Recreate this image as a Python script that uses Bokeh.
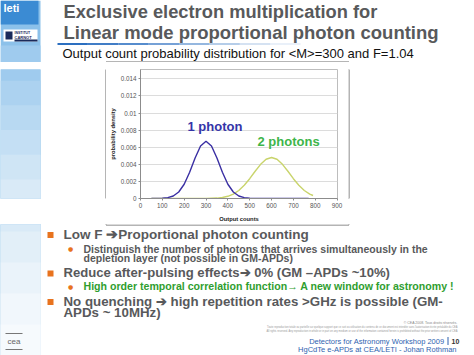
from bokeh.plotting import figure
from bokeh.models import Range1d, FixedTicker, Label
from bokeh.layouts import column, row
from bokeh.core.properties import value
from bokeh.embed import file_html
from bokeh.resources import INLINE

# ---------------- data ----------------
counts_1 = [50, 75, 100, 125, 150, 175, 200, 225, 250, 275, 300, 325, 350, 375,
            400, 425, 450, 475, 500, 550, 600, 650, 700, 770]
density_1 = [0.0, 0.000006, 0.000026, 0.000096, 0.00029, 0.00076, 0.00167, 0.00307,
             0.00474, 0.00614, 0.0067, 0.00614, 0.00474, 0.00307, 0.00167, 0.00076,
             0.00029, 0.000096, 0.000026, 0.000001, 0.0, 0.0, 0.0, 0.0]

counts_2 = [50, 100, 150, 200, 250, 300, 350, 375, 400, 425, 450, 475, 500, 525, 550,
            575, 600, 625, 650, 675, 700, 725, 750, 775, 790]
density_2 = [0.0, 0.0, 0.0, 0.0, 0.000001, 0.000007, 0.00005, 0.00012, 0.00026, 0.00052,
             0.00094, 0.00155, 0.00232, 0.00319, 0.0040, 0.00459, 0.0048, 0.00459, 0.0040,
             0.00319, 0.00232, 0.00155, 0.00094, 0.00052, 0.00035]

x_ticks = [0, 100, 200, 300, 400, 500, 600, 700, 800, 900]
y_ticks = [0, 0.002, 0.004, 0.006, 0.008, 0.010, 0.012, 0.014]
y_tick_labels = ["0", "0.002", "0.004", "0.006", "0.008", "0.01", "0.012", "0.014"]

# ---------------- page geometry ----------------
W, H = 474, 355
BX0, BX1, BY0, BY1 = 105, 348, 61, 224      # chart area box lines
CX0, CX1, CY0, CY1 = 106, 348, 62, 224      # chart figure canvas
FL, FR, FT, FB = 136, 337, 69, 198          # plot frame
FONT = "Liberation Sans"
GRAY = "#58595b"
ORANGE = "#e8731e"
MID = 0.35   # cap-centre above the baseline, in em

# ---------------- chart ----------------
p = figure(width=CX1 - CX0, height=CY1 - CY0, output_backend="svg", toolbar_location=None,
           x_range=Range1d(0, 902), y_range=Range1d(0, 0.0151),
           min_border_left=FL - CX0, min_border_right=CX1 - FR,
           min_border_top=FT - CY0, min_border_bottom=CY1 - FB)
p.background_fill_color = "white"
p.border_fill_color = "white"
p.outline_line_color = "#bdbdbd"
p.xgrid.visible = False
p.ygrid.grid_line_color = "#dcdcdc"

for ax in (p.xaxis[0], p.yaxis[0]):
    ax.axis_line_color = "#8c8c8c"
    ax.major_tick_line_color = "#8c8c8c"
    ax.major_tick_out = 2
    ax.major_tick_in = 0
    ax.minor_tick_out = 0
    ax.minor_tick_in = 0
    ax.major_label_text_font = FONT
    ax.major_label_text_font_size = "6.3px"
    ax.major_label_text_color = "#555555"
    ax.axis_label_text_font = FONT
    ax.axis_label_text_font_size = "5.8px"
    ax.axis_label_text_font_style = "bold"
    ax.axis_label_text_color = "#222222"
    ax.major_label_standoff = 2

p.xaxis.ticker = FixedTicker(ticks=x_ticks)
p.yaxis.ticker = FixedTicker(ticks=y_ticks)
p.yaxis.major_label_overrides = {t: s for t, s in zip(y_ticks, y_tick_labels)}
p.xaxis.axis_label = "Output counts"
p.yaxis.axis_label = "probability density"
p.xaxis.axis_label_standoff = 5
p.yaxis.axis_label_standoff = 2

p.line(counts_2, density_2, line_color="#c9d46c", line_width=1.4)
p.line(counts_1, density_1, line_color="#3a2fa3", line_width=1.4)

for px, py, s, c in [(183, 130.7, "1 photon", "#3434a8"), (253, 146, "2 photons", "#3db54a")]:
    p.add_layout(Label(x=px - FL, y=FB - (py - MID * 13), x_units="screen", y_units="screen",
                       text=s, text_font=FONT, text_font_size="13px", text_font_style="bold",
                       text_color=c, text_baseline="middle"))


# ---------------- slide decoration (page pixel coordinates) ----------------
def deco(x0, x1, y0, y1):
    f = figure(width=x1 - x0, height=y1 - y0, output_backend="svg", toolbar_location=None,
               x_range=Range1d(x0, x1), y_range=Range1d(y1, y0),
               x_axis_type=None, y_axis_type=None, min_border=0)
    f.min_border_left = f.min_border_right = f.min_border_top = f.min_border_bottom = 0
    f.grid.visible = False
    f.outline_line_color = None
    f.background_fill_color = "white"
    f.border_fill_color = "white"
    f.tags = [x0, x1, y0, y1]
    draw(f)
    return f


def T(f, x, y, s, size, color=GRAY, bold=True, align="left", font=FONT):
    # y is the text baseline in page pixels; drawn only in the panel that holds it
    x0, x1, y0, y1 = f.tags
    if not (x0 <= x <= x1 and y0 <= y <= y1):
        return
    f.text(x=[x], y=[y - MID * size], text=[s], text_font=value(font),
           text_font_size=f"{size}px", text_color=color,
           text_font_style="bold" if bold else "normal",
           text_align=align, text_baseline="middle")


def Q(f, x0, y0, x1, y1, color, alpha=1.0):
    f.quad(left=[x0], right=[x1], top=[y0], bottom=[y1], fill_color=color,
           fill_alpha=alpha, line_color=None)


def draw(f):
    # left strip: each band runs to the bottom, the next one painted over it
    strip = ["#9fcbee", "#acd2f0", "#b8d9f2", "#c4dff4", "#cfe5f5", "#d9eaf7",
             "#e2eff8", "#eaf3fa", "#f1f7fc", "#f6fafd"]
    n = len(strip)
    step = (H - 45) / n
    Q(f, 0, 0, 40, H, "#8cc1ea")
    for i, c in enumerate(strip):
        Q(f, 0, 45 + i * step, 40, H, c)
    Q(f, 0, 0, 38, 24, "#3b8bd3")
    T(f, 3, 11, "leti", 11, color="white")
    Q(f, 3, 29, 37, 41, "white")
    Q(f, 5, 31, 12, 39, "#1b2a5a")
    T(f, 14, 34, "INSTITUT", 3.5, color="#1b2a5a")
    T(f, 14, 38, "CARNOT", 4, color="#1b2a5a")
    Q(f, 14, 39, 37, 41, "#1b2a5a")
    # cea logo
    Q(f, 5, 332.5, 22, 333.5, "#777777")
    Q(f, 5, 348.5, 22, 349.5, "#777777")
    T(f, 13.5, 343.5, "cea", 8, color="#666666", bold=False, align="center")

    # chart area box
    f.line(x=[BX0 + 0.5, BX1 + 0.5, BX1 + 0.5, BX0 + 0.5, BX0 + 0.5],
           y=[BY0 + 0.5, BY0 + 0.5, BY1 + 0.5, BY1 + 0.5, BY0 + 0.5],
           line_color="#6b6b6b", line_width=1)

    # title
    T(f, 63, 17, "Exclusive electron multiplication for", 18.3)
    T(f, 63, 38.5, "Linear mode proportional photon counting", 18.5)
    grad = [1.0, 0.9, 0.8, 0.65, 0.5, 0.35, 0.2, 0.1]
    seg = (300 - 57) / len(grad)
    for i, a in enumerate(grad):
        Q(f, 57 + i * seg, 42.5, 57 + (i + 1) * seg, 44.5, "#2c6fc0", a)
    T(f, 62, 57.5, "Output count probability distribution for <M>=300 and F=1.04", 13,
      color="#111111", bold=False)

    # bullets
    Q(f, 47, 231.5, 53, 237.5, ORANGE)
    T(f, 63, 238.8, "Low F \u2794Proportional photon counting", 13.5)
    T(f, 70, 250, "\u25cf", 6, color=ORANGE, align="center", font="DejaVu Sans")
    T(f, 83, 251.7, "Distinguish the number of photons that arrives simultaneously in the", 10.5)
    T(f, 83, 261.5, "depletion layer (not possible in GM-APDs)", 10.5)
    Q(f, 47, 270, 53, 276, ORANGE)
    T(f, 63, 277, "Reduce after-pulsing effects\u2794 0% (GM \u2013APDs ~10%)", 13.1)
    T(f, 70, 288, "\u25cf", 6, color=ORANGE, align="center", font="DejaVu Sans")
    T(f, 83, 289.5, "High order temporal correlation function\u2192 A new window for astronomy !",
      10.6, color="#2f9e2f")
    Q(f, 47, 298.5, 53, 304.5, ORANGE)
    T(f, 63, 305.3, "No quenching \u2794 high repetition rates >GHz is possible  (GM-", 13.3)
    T(f, 63, 316.8, "APDs ~ 10MHz)", 13.3)

    # footer
    T(f, 457, 324, "\u00a9 CEA 2008. Tous droits r\u00e9serv\u00e9s.", 3.5, color="#888888",
      bold=False, align="right")
    T(f, 457, 328, "Toute reproduction totale ou partielle sur quelque support que ce soit ou utilisation "
      "du contenu de ce document est interdite sans l'autorisation \u00e9crite pr\u00e9alable du CEA",
      2.6, color="#999999", bold=False, align="right")
    T(f, 457, 331.5, "All rights reserved. Any reproduction in whole or in part on any medium or use of "
      "the information contained herein is prohibited without the prior written consent of CEA",
      2.6, color="#999999", bold=False, align="right")
    T(f, 444, 343.5, "Detectors for Astronomy Workshop 2009", 7.5, color="#2f63b0",
      bold=False, align="right")
    Q(f, 447, 336.5, 448, 344.5, "#2f63b0")
    T(f, 451, 343.5, "10", 7, color="#333333")
    T(f, 456, 351.5, "HgCdTe e-APDs at CEA/LETI - Johan Rothman", 7.5, color="#2f63b0",
      bold=False, align="right")


top = deco(0, W, 0, CY0)
left = deco(0, CX0, CY0, CY1)
right = deco(CX1, W, CY0, CY1)
bottom = deco(0, W, CY1, H)

page = column(top, row(left, p, right, spacing=0), bottom, spacing=0)
open("out.html", "w").write(file_html(page, INLINE))
